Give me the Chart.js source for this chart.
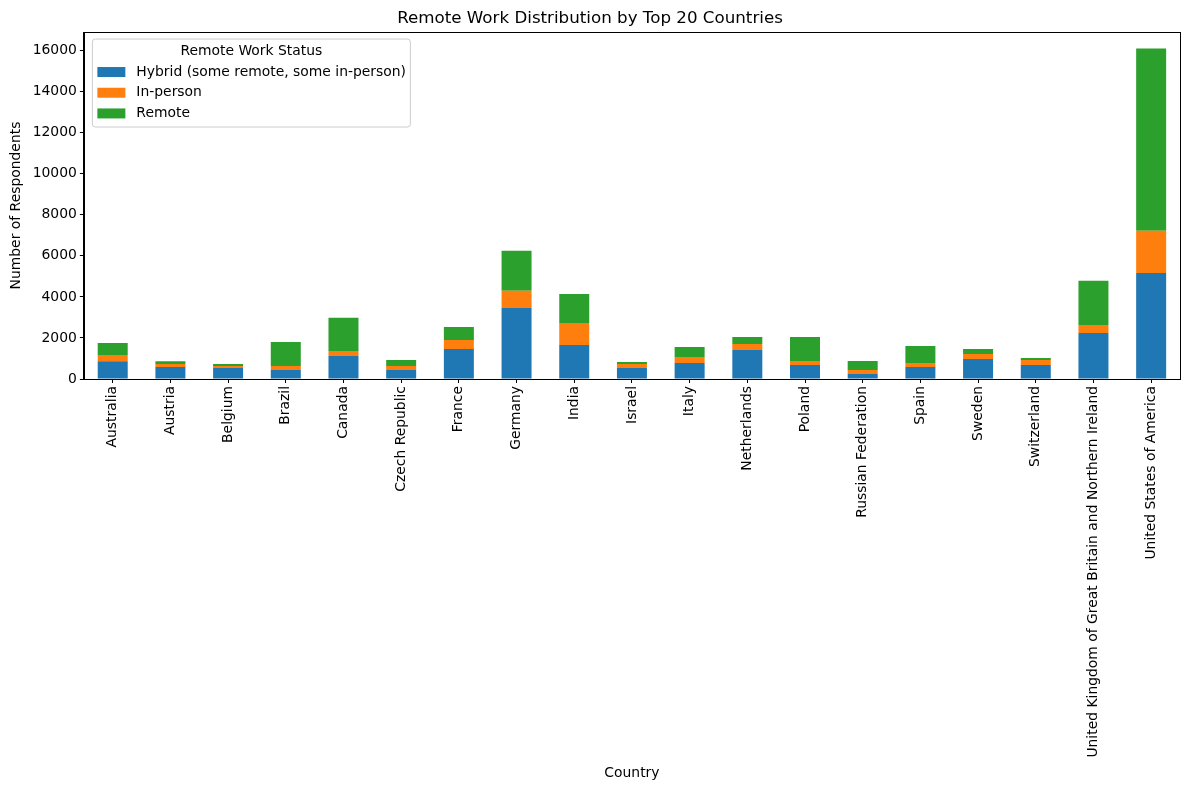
<!DOCTYPE html>
<html>
<head>
<meta charset="utf-8">
<script src="https://cdn.jsdelivr.net/npm/chart.js@4.4.0/dist/chart.umd.min.js"></script>
<style>
html,body{margin:0;padding:0;background:#fff;}
#wrap{width:1189px;height:790px;}
</style>
</head>
<body>
<div id="wrap"><canvas id="c" width="1189" height="790"></canvas></div>
<script>
const countries = ["Australia","Austria","Belgium","Brazil","Canada","Czech Republic","France","Germany","India","Israel","Italy","Netherlands","Poland","Russian Federation","Spain","Sweden","Switzerland","United Kingdom of Great Britain and Northern Ireland","United States of America"];
const hybrid   = [870, 580, 540, 440, 1120, 440, 1460, 3465, 1660, 540, 780, 1415, 680, 245, 585, 975, 680, 2245, 5170];
const inPerson = [300, 150,  95, 190,  250, 195,  440,  830, 1070, 190, 290,  290, 200, 195, 195, 245, 245,  390, 2050];
const remote   = [580, 140, 100, 1170, 1610, 290, 635, 1950, 1415, 100, 490,  345, 1170, 440, 830, 245, 100, 2150, 8880];
const yTicks = [0,2000,4000,6000,8000,10000,12000,14000,16000];
const seriesNames = ["Hybrid (some remote, some in-person)","In-person","Remote"];
const colors = ["#1f77b4","#ff7f0e","#2ca02c"];

const FONT = "'DejaVu Sans', sans-serif";
const FS = 13.9;
Chart.defaults.font.family = FONT;
Chart.defaults.color = "#000";

const framePlugin = {
  id: 'frame',
  afterDraw(chart) {
    const {ctx, chartArea: a} = chart;
    ctx.save();
    ctx.strokeStyle = '#000';
    ctx.lineWidth = 1;
    ctx.strokeRect(Math.round(a.left)+0.5, Math.round(a.top)+0.5, Math.round(a.right-a.left), Math.round(a.bottom-a.top));
    // legend
    const x0 = a.left + 8.5, y0 = a.top + 7;
    const w = 318, h = 88;
    ctx.fillStyle = 'rgba(255,255,255,0.8)';
    ctx.strokeStyle = '#cccccc';
    ctx.lineWidth = 1;
    const r = 3;
    ctx.beginPath();
    ctx.moveTo(x0+r, y0); ctx.lineTo(x0+w-r, y0); ctx.quadraticCurveTo(x0+w, y0, x0+w, y0+r);
    ctx.lineTo(x0+w, y0+h-r); ctx.quadraticCurveTo(x0+w, y0+h, x0+w-r, y0+h);
    ctx.lineTo(x0+r, y0+h); ctx.quadraticCurveTo(x0, y0+h, x0, y0+h-r);
    ctx.lineTo(x0, y0+r); ctx.quadraticCurveTo(x0, y0, x0+r, y0);
    ctx.closePath(); ctx.fill(); ctx.stroke();
    ctx.fillStyle = '#000';
    ctx.font = FS + "px " + FONT;
    ctx.textAlign = 'center'; ctx.textBaseline = 'middle';
    ctx.fillText("Remote Work Status", x0 + w/2, y0 + 12);
    ctx.textAlign = 'left';
    for (let i = 0; i < seriesNames.length; i++) {
      const yy = y0 + 33 + i*20.7;
      ctx.fillStyle = colors[i];
      ctx.fillRect(x0 + 5, yy - 5, 28, 10);
      ctx.fillStyle = '#000';
      ctx.fillText(seriesNames[i], x0 + 44, yy);
    }
    ctx.restore();
  }
};

new Chart(document.getElementById('c'), {
  type: 'bar',
  data: {
    labels: countries,
    datasets: [
      {label: seriesNames[0], data: hybrid, backgroundColor: colors[0]},
      {label: seriesNames[1], data: inPerson, backgroundColor: colors[1]},
      {label: seriesNames[2], data: remote, backgroundColor: colors[2]}
    ]
  },
  options: {
    responsive: false,
    animation: false,
    layout: {padding: {left: 0, right: 9, top: 0, bottom: 8}},
    datasets: {bar: {categoryPercentage: 1.0, barPercentage: 0.52, borderWidth: 0}},
    plugins: {
      legend: {display: false},
      tooltip: {enabled: false},
      title: {display: true, text: 'Remote Work Distribution by Top 20 Countries', font: {size: 16.7, weight: 'normal'}, color: '#000', padding: {top: 9, bottom: 3}}
    },
    scales: {
      x: {
        stacked: true,
        afterFit(scale) { scale.height = 403; },
        grid: {display: true, offset: false, drawOnChartArea: false, drawTicks: true, tickLength: 4, color: '#000'},
        border: {display: true, color: '#000'},
        ticks: {autoSkip: false, maxRotation: 90, minRotation: 90, font: {size: FS}, color: '#000', padding: 3},
        title: {display: true, text: 'Country', font: {size: FS}, color: '#000', padding: {top: 4, bottom: 0}}
      },
      y: {
        stacked: true,
        min: 0, max: 16905,
        afterBuildTicks(axis) { axis.ticks = yTicks.map(v => ({value: v})); },
        grid: {display: true, drawOnChartArea: false, drawTicks: true, tickLength: 4, color: '#000'},
        border: {display: true, color: '#000'},
        ticks: {font: {size: FS}, color: '#000', padding: 3, callback: v => String(v)},
        title: {display: true, text: 'Number of Respondents', font: {size: FS}, color: '#000', padding: {top: 8, bottom: 5}}
      }
    }
  },
  plugins: [framePlugin]
});
</script>
</body>
</html>
